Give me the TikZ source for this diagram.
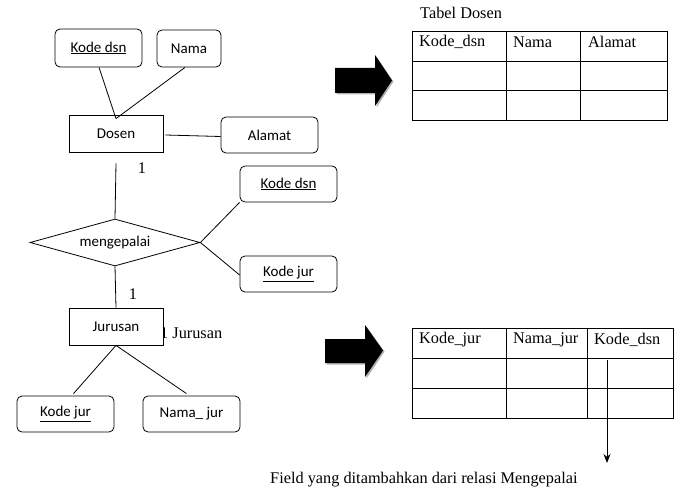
\documentclass[tikz,border=0pt]{standalone}
\usepackage{fontspec}
\setmainfont{Liberation Serif}
\newfontfamily\erfont{Carlito}
\usetikzlibrary{shapes.geometric,arrows.meta}
\begin{document}
\begin{tikzpicture}[x=1pt,y=-1pt,
  attr/.style={draw,rounded corners=5pt,line width=0.8pt,inner sep=0pt,font=\erfont\fontsize{15}{18}\selectfont,fill=white},
  ent/.style={draw,line width=0.8pt,inner sep=0pt,minimum width=94pt,minimum height=37pt,font=\erfont\fontsize{15}{18}\selectfont,fill=white},
  rel/.style={draw,diamond,aspect=3.6,line width=0.8pt,inner sep=0pt,minimum width=170pt,minimum height=47pt,font=\erfont\fontsize{15}{18}\selectfont},
  conn/.style={line width=0.8pt},
  serif/.style={font=\fontsize{16.3}{19}\selectfont,inner sep=0pt},
  tbl/.style={line width=0.9pt},
  blockarrow/.style={fill=black},
  shadowarrow/.style={fill=black!30}
]
\useasboundingbox (0,0) rectangle (683,495);

% ER part
\node[attr,minimum width=87pt,minimum height=38pt] (kd1) at (98.5,48) {\underline{Kode dsn}};
\node[attr,minimum width=64pt,minimum height=37pt] (nama) at (189,48.5) {Nama};
\node[ent] (dosen) at (116,133.5) {Dosen};
\node[attr,minimum width=97pt,minimum height=36pt] (alamat) at (269.5,135) {Alamat};
\node[attr,minimum width=97pt,minimum height=36pt] (kd2) at (288.5,184) {\underline{Kode dsn}};
\node[rel] (mg) at (115,242.5) {mengepalai};
\node[attr,minimum width=97pt,minimum height=36pt] (kj2) at (288.5,274) {\underline{Kode jur}};
\node[serif,anchor=west] (lbl1j) at (160,333) {1 Jurusan};
\node[ent] (jur) at (116,326.5) {Jurusan};
\node[attr,minimum width=97pt,minimum height=36pt] (kj1) at (65.5,414) {\underline{Kode jur}};
\node[attr,minimum width=97pt,minimum height=36pt] (nj) at (191.5,414) {Nama\_ jur};

\coordinate (apex) at ([yshift=-4pt]dosen.north);
\coordinate (dgap) at ([yshift=-11pt]dosen.south);
\draw[conn] ([xshift=0.5pt]kd1.south) -- (apex);
\draw[conn] ([xshift=-4pt]nama.south) -- (apex);
\draw[conn] ([xshift=2pt,yshift=-1.5pt]dosen.east) -- ([yshift=-1.5pt]alamat.west);
\draw[conn] (dgap) -- (mg.north);
\draw[conn] (mg.east) -- (kd2.south west);
\draw[conn] (mg.east) -- ([yshift=-1pt]kj2.west);
\draw[conn] (mg.south) -- (jur.north);
\draw[conn] (jur.south) -- ([xshift=8pt,yshift=2pt]kj1.north);
\draw[conn] (jur.south) -- ([xshift=-5pt,yshift=2pt]nj.north);

\node[serif] (one1) at (142,168) {1};
\node[serif] (one2) at (133,294) {1};

% block arrows
\fill[shadowarrow] (336.5,69.5) -- (376.5,69.5) -- (376.5,56.5) -- (393.5,81.5) -- (376.5,107.5) -- (376.5,94.5) -- (336.5,94.5) -- cycle;
\fill[blockarrow] (335,68) -- (375,68) -- (375,55) -- (392,80.5) -- (375,106) -- (375,93) -- (335,93) -- cycle;
\fill[shadowarrow] (326.5,340.5) -- (366.5,340.5) -- (366.5,326.5) -- (384.5,351.5) -- (366.5,378.5) -- (366.5,364.5) -- (326.5,364.5) -- cycle;
\fill[blockarrow] (325,339) -- (365,339) -- (365,325) -- (383,350.5) -- (365,377) -- (365,363) -- (325,363) -- cycle;

% Table Dosen
\node[serif,anchor=west] (tdtitle) at (420,13) {Tabel Dosen};
\draw[tbl] (412,31) rectangle (667,120);
\draw[tbl] (412,61) -- (667,61);
\draw[tbl] (412,90) -- (667,90);
\draw[tbl] (506,31) -- (506,120);
\draw[tbl] (580,31) -- (580,120);
\node[serif,anchor=west] (h11) at (419,42) {Kode\_dsn};
\node[serif,anchor=west] (h12) at (513,42) {Nama};
\node[serif,anchor=west] (h13) at (588,42) {Alamat};

% Table Jurusan
\draw[tbl] (412,328) rectangle (673,418);
\draw[tbl] (412,358) -- (673,358);
\draw[tbl] (412,388) -- (673,388);
\draw[tbl] (506,328) -- (506,418);
\draw[tbl] (587,328) -- (587,418);
\node[serif,anchor=west] (h21) at (419,340) {Kode\_jur};
\node[serif,anchor=west] (h22) at (513,340) {Nama\_jur};
\node[serif,anchor=west] (h23) at (594,340) {Kode\_dsn};

\coordinate (fstart) at (607,360);
\coordinate (fend) at (607,463);
\draw[line width=0.9pt,-{Stealth[length=9pt,width=7pt]}] (fstart) -- (fend);
\node[serif,anchor=west] (ftext) at (270,480) {Field yang ditambahkan dari relasi Mengepalai};
\end{tikzpicture}
\end{document}
